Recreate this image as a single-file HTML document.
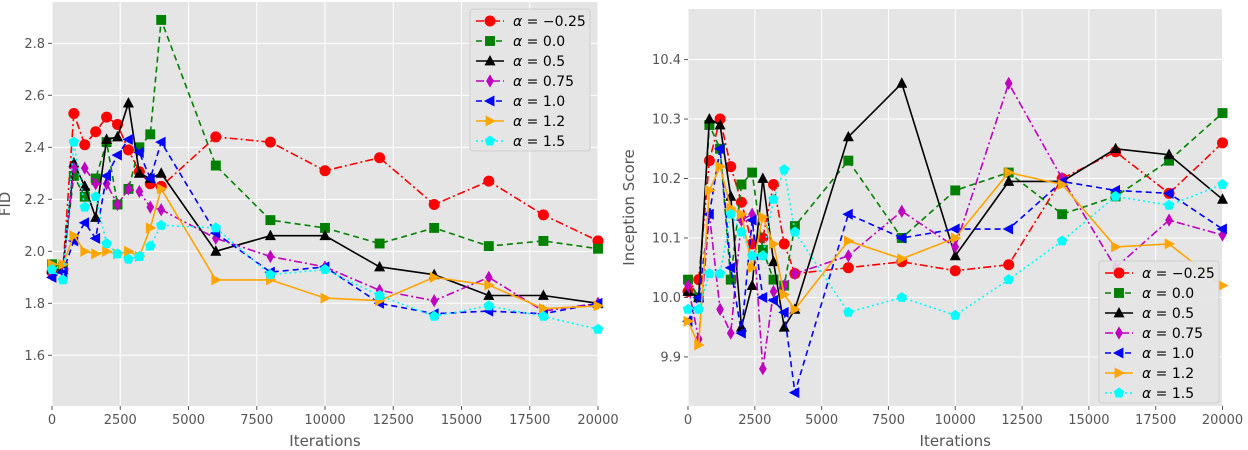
<!DOCTYPE html>
<html><head><meta charset="utf-8"><style>
body{margin:0;background:#fff;width:1248px;height:450px;overflow:hidden;font-family:"DejaVu Sans","Liberation Sans",sans-serif}
svg{display:block}
</style></head><body>
<svg id="chart" width="1248" height="450" xmlns="http://www.w3.org/2000/svg" font-family="DejaVu Sans, Liberation Sans, sans-serif"></svg>
<script>
const iterations=[0,400,800,1200,1600,2000,2400,2800,3200,3600,4000,6000,8000,10000,12000,14000,16000,18000,20000];
const seriesLabels=["α = −0.25","α = 0.0","α = 0.5","α = 0.75","α = 1.0","α = 1.2","α = 1.5"];
const fidRed=[1.92,1.93,2.53,2.41,2.46,2.516,2.488,2.39,2.306,2.26,2.25,2.44,2.42,2.31,2.36,2.18,2.27,2.14,2.04];
const fidGreen=[1.95,1.94,2.29,2.21,2.28,2.42,2.18,2.24,2.40,2.45,2.89,2.33,2.12,2.09,2.03,2.09,2.02,2.04,2.01];
const fidBlack=[1.93,1.93,2.34,2.25,2.13,2.43,2.44,2.57,2.30,2.28,2.30,2.0,2.06,2.06,1.94,1.91,1.83,1.83,1.80];
const fidMagenta=[1.91,1.92,2.32,2.32,2.26,2.26,2.18,2.24,2.23,2.17,2.16,2.05,1.98,1.94,1.85,1.81,1.90,1.77,1.80];
const fidBlue=[1.90,1.92,2.04,2.11,2.05,2.29,2.37,2.43,2.38,2.28,2.42,2.07,1.92,1.94,1.80,1.76,1.77,1.76,1.80];
const fidOrange=[1.95,1.95,2.06,2.0,1.99,2.0,1.99,2.0,1.98,2.09,2.24,1.89,1.89,1.82,1.81,1.90,1.87,1.78,1.79];
const fidCyan=[1.93,1.89,2.42,2.17,2.21,2.03,1.99,1.97,1.98,2.02,2.10,2.09,1.91,1.93,1.83,1.75,1.79,1.75,1.70];
const isRed=[10.01,10.03,10.23,10.30,10.22,10.16,10.09,10.10,10.19,10.09,10.04,10.05,10.06,10.045,10.055,10.20,10.245,10.175,10.26];
const isGreen=[10.03,10.0,10.29,10.25,10.03,10.19,10.21,10.08,10.03,10.02,10.12,10.23,10.10,10.18,10.21,10.14,10.17,10.23,10.31];
const isBlack=[10.01,10.0,10.30,10.29,10.17,9.95,10.02,10.20,10.06,9.95,9.98,10.27,10.36,10.07,10.195,10.195,10.25,10.24,10.165];
const isMagenta=[10.02,9.93,10.14,9.98,9.94,10.13,10.14,9.88,10.01,10.02,10.04,10.07,10.145,10.085,10.36,10.20,10.05,10.13,10.105];
const isBlue=[9.96,10.0,10.14,10.25,10.05,9.94,10.13,10.0,9.995,9.975,9.84,10.14,10.10,10.115,10.115,10.195,10.18,10.175,10.115];
const isOrange=[9.96,9.92,10.18,10.22,10.15,10.14,10.05,10.135,10.09,10.005,9.98,10.095,10.065,10.10,10.21,10.19,10.085,10.09,10.02];
const isCyan=[9.98,9.98,10.04,10.04,10.14,10.11,10.07,10.07,10.165,10.215,10.11,9.975,10.0,9.97,10.03,10.095,10.17,10.155,10.19];
const xTicks=[0,2500,5000,7500,10000,12500,15000,17500,20000];
const fidTicks=[1.6,1.8,2.0,2.2,2.4,2.6,2.8];
const isTicks=[9.9,10.0,10.1,10.2,10.3,10.4];

const colors=["#ff0000","#008000","#000000","#bf00bf","#0000ff","#ffa500","#00ffff"];
const dashes=["8,3,2,3","6,4","","8,3,2,3","6,4","","2,3"];
const markers=["circle","square","triUp","diamond","triLeft","triRight","pentagon"];
const NS="http://www.w3.org/2000/svg";
const svg=document.getElementById('chart');
function mk(tag,attrs,parent){const e=document.createElementNS(NS,tag);for(const k in attrs)e.setAttribute(k,attrs[k]);(parent||svg).appendChild(e);return e;}
function marker(g,type,x,y,c,r){
  r=r||5.5;let e;
  if(type==="circle")e=mk('circle',{cx:x,cy:y,r:r,fill:c},g);
  else if(type==="square")e=mk('rect',{x:x-r*0.9,y:y-r*0.9,width:r*1.8,height:r*1.8,fill:c},g);
  else{let p;
    if(type==="triUp")p=[[0,-r*1.1],[r,r*0.8],[-r,r*0.8]];
    else if(type==="triLeft")p=[[-r*1.1,0],[r*0.8,-r],[r*0.8,r]];
    else if(type==="triRight")p=[[r*1.1,0],[-r*0.8,-r],[-r*0.8,r]];
    else if(type==="diamond")p=[[0,-r*1.2],[r*0.7,0],[0,r*1.2],[-r*0.7,0]];
    else{p=[];for(let i=0;i<5;i++){const a=-Math.PI/2+i*2*Math.PI/5;p.push([r*Math.cos(a),r*Math.sin(a)]);}}
    e=mk('polygon',{points:p.map(q=>(x+q[0])+','+(y+q[1])).join(' '),fill:c},g);}
  return e;
}
function panel(cfg){
  const {L,R,T,B,ymin,ymax,yt,data,ylabel,fmt,legX,legY,name}=cfg;
  const sx=v=>L+(v-0)/(20000)*(R-L);
  const sy=v=>B-(v-ymin)/(ymax-ymin)*(B-T);
  const g=mk('g',{});
  
  
  mk('rect',{x:L,y:T,width:R-L,height:B-T,fill:'#e5e5e5'},g);
  xTicks.forEach(t=>{mk('line',{x1:sx(t),x2:sx(t),y1:T,y2:B,stroke:'#fff','stroke-width':1},g);
    mk('line',{x1:sx(t),x2:sx(t),y1:B,y2:B+4,stroke:'#555'},g);
    const tx=mk('text',{x:sx(t),y:B+18,'text-anchor':'middle','font-size':13,fill:'#555'},g);tx.textContent=t;
    });
  yt.forEach(t=>{mk('line',{x1:L,x2:R,y1:sy(t),y2:sy(t),stroke:'#fff','stroke-width':1},g);
    mk('line',{x1:L-4,x2:L,y1:sy(t),y2:sy(t),stroke:'#555'},g);
    const tx=mk('text',{x:L-7,y:sy(t)+4.5,'text-anchor':'end','font-size':13,fill:'#555'},g);tx.textContent=fmt(t);
    });
  const xl=mk('text',{x:(L+R)/2,y:B+40,'text-anchor':'middle','font-size':15,fill:'#555'},g);xl.textContent='Iterations';
  
  const yl=mk('text',{x:0,y:0,'text-anchor':'middle','font-size':15,fill:'#555',transform:`translate(${L-cfg.ylOff},${(T+B)/2}) rotate(-90)`},g);yl.textContent=ylabel;
  
  data.forEach((s,i)=>{
    const sg=mk('g',{},g);
    
    
    const pts=s.map((v,j)=>sx(iterations[j])+','+sy(v)).join(' ');
    const a={points:pts,fill:'none',stroke:colors[i],'stroke-width':1.6};if(dashes[i])a['stroke-dasharray']=dashes[i];
    mk('polyline',a,sg);
    s.forEach((v,j)=>{const m=marker(sg,markers[i],sx(iterations[j]),sy(v),colors[i]);
      
      });
  });
  const lg=mk('g',{},g);
  
  
  mk('rect',{x:legX,y:legY,width:120,height:142,rx:3,fill:'#e5e5e5',stroke:'#ccc','stroke-width':1,opacity:0.9},lg);
  seriesLabels.forEach((lab,i)=>{
    const y=legY+12+i*20;
    const eg=mk('g',{},lg);
    
    
    const a={x1:legX+6,x2:legX+34,y1:y,y2:y,stroke:colors[i],'stroke-width':1.6};if(dashes[i])a['stroke-dasharray']=dashes[i];
    mk('line',a,eg);
    marker(eg,markers[i],legX+20,y,colors[i]);
    const t=mk('text',{x:legX+43,y:y+5,'font-size':14,fill:'#000'},eg);
    t.innerHTML='<tspan font-style="italic">α</tspan>'+lab.slice(1);
  });
}
panel({name:'fid-panel',L:52,R:598,T:2,B:406,ymin:1.405,ymax:2.959,yt:fidTicks,fmt:v=>v.toFixed(1),ylabel:'FID',ylOff:42,
  data:[fidRed,fidGreen,fidBlack,fidMagenta,fidBlue,fidOrange,fidCyan],legX:470,legY:9});
panel({name:'inception-panel',L:688,R:1222.5,T:9,B:406,ymin:9.8175,ymax:10.485,yt:isTicks,fmt:v=>v.toFixed(1),ylabel:'Inception Score',ylOff:54,
  data:[isRed,isGreen,isBlack,isMagenta,isBlue,isOrange,isCyan],legX:1099,legY:261});
</script>
</body></html>
